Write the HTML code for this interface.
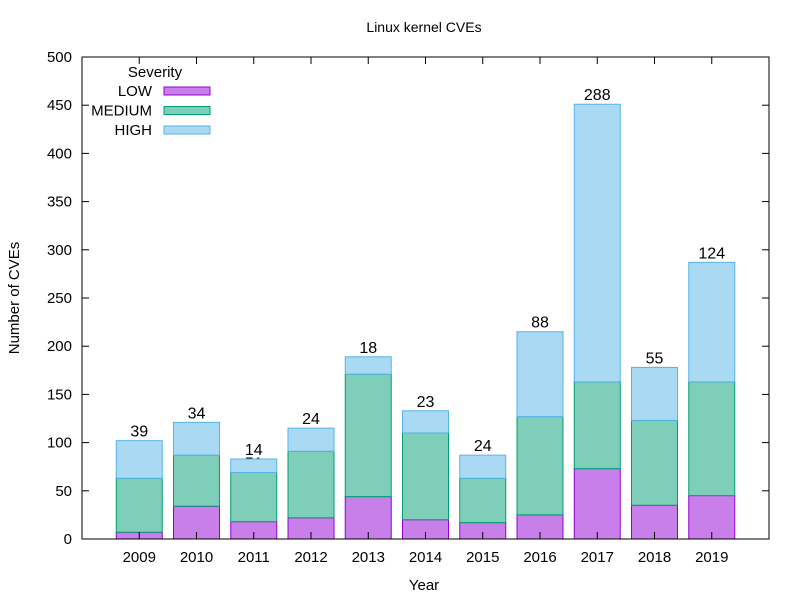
<!DOCTYPE html>
<html><head><meta charset="utf-8"><style>
body{margin:0;background:#fff}
svg{font-family:"Liberation Sans",sans-serif}
</style></head><body>
<svg id="chart" width="800" height="600" viewBox="0 0 800 600" xmlns="http://www.w3.org/2000/svg"></svg>
<script>
const years=["2009","2010","2011","2012","2013","2014","2015","2016","2017","2018","2019"];
const low=[7,34,18,22,44,20,17,25,73,35,45];
const medium=[56,53,51,69,127,90,46,102,90,88,118];
const high=[39,34,14,24,18,23,24,88,288,55,124];
const yTicks=[0,50,100,150,200,250,300,350,400,450,500];
const series=[{name:"LOW",vals:low,fill:"#c97fe9",stroke:"#9400d3"},{name:"MEDIUM",vals:medium,fill:"#7fceb9",stroke:"#009e73"},{name:"HIGH",vals:high,fill:"#aad9f4",stroke:"#56b4e9"}];
const L=82,R=769,T=57,B=539;
const X=i=>L+(i+1)*(R-L)/12;
const Y=v=>B-v*(B-T)/500;
const svg=document.getElementById('chart');
const NS="http://www.w3.org/2000/svg";
function mk(tag,attrs,txt){const e=document.createElementNS(NS,tag);for(const k in attrs)e.setAttribute(k,attrs[k]);if(txt!==undefined)e.textContent=txt;svg.appendChild(e);return e;}
// bars
years.forEach((yr,i)=>{let base=0;series.forEach(s=>{const v=s.vals[i];const top=base+v;
const r=mk('rect',{x:X(i)-23,y:Y(top),width:46,height:Y(base)-Y(top),fill:s.fill,stroke:s.stroke,'stroke-width':1});


const t=mk('text',{x:X(i),y:Y(top)-4,'text-anchor':'middle','font-size':16,fill:'#000'},v);


base=top;});});
// frame
const f=mk('rect',{x:L,y:T,width:R-L,height:B-T,fill:'none',stroke:'#000','stroke-width':1});


yTicks.forEach(v=>{mk('line',{x1:L,x2:L+7,y1:Y(v),y2:Y(v),stroke:'#000'});mk('line',{x1:R,x2:R-7,y1:Y(v),y2:Y(v),stroke:'#000'});
const t=mk('text',{x:72,y:Y(v)+5,'text-anchor':'end','font-size':15},v);

});
years.forEach((yr,i)=>{mk('line',{x1:X(i),x2:X(i),y1:B,y2:B-7,stroke:'#000'});mk('line',{x1:X(i),x2:X(i),y1:T,y2:T+7,stroke:'#000'});
const t=mk('text',{x:X(i),y:562,'text-anchor':'middle','font-size':15},yr);

});
let e=mk('text',{x:424,y:32,'text-anchor':'middle','font-size':14},'Linux kernel CVEs');

e=mk('text',{x:424,y:590,'text-anchor':'middle','font-size':15},'Year');

e=mk('text',{x:19,y:298,'text-anchor':'middle','font-size':15,transform:'rotate(-90 19 298)'},'Number of CVEs');

e=mk('text',{x:155,y:77,'text-anchor':'middle','font-size':15},'Severity');

series.forEach((s,k)=>{const yy=91+k*19.5;
const t=mk('text',{x:152,y:yy+5,'text-anchor':'end','font-size':15},s.name);


const r=mk('rect',{x:164,y:yy-4,width:46,height:8,fill:s.fill,stroke:s.stroke});

});
</script>
</body></html>
